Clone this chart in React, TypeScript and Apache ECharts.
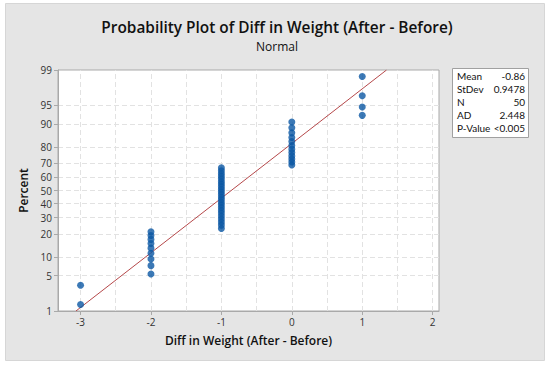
import React, { useEffect, useRef } from "react";
import * as echarts from "echarts";

const observations: number[] = [
  -3, -3,
  -2, -2, -2, -2, -2, -2, -2, -2, -2,
  -1, -1, -1, -1, -1, -1, -1, -1, -1, -1, -1, -1, -1, -1, -1, -1, -1, -1, -1, -1, -1, -1, -1,
  0, 0, 0, 0, 0, 0, 0, 0, 0, 0, 0, 0,
  1, 1, 1, 1,
];

const percentTicks: number[] = [1, 5, 10, 20, 30, 40, 50, 60, 70, 80, 90, 95, 99];
const xTicks: number[] = [-3, -2, -1, 0, 1, 2];
const xGridValues: number[] = [-3, -2.5, -2, -1.5, -1, -0.5, 0, 0.5, 1, 1.5, 2];
const statLabels: string[] = ["Mean", "StDev", "N", "AD", "P-Value"];
const statValues: string[] = ["-0.86", "0.9478", "50", "2.448", "<0.005"];

const FONT = "'Open Sans', 'Noto Sans', sans-serif";
const STAT_FONT = "Lato, 'Open Sans', sans-serif";

function normInv(p: number): number {
  const a = [-3.969683028665376e1, 2.209460984245205e2, -2.759285104469687e2, 1.38357751867269e2, -3.066479806614716e1, 2.506628277459239];
  const b = [-5.447609879822406e1, 1.615858368580409e2, -1.556989798598866e2, 6.680131188771972e1, -1.328068155288572e1];
  const c = [-7.784894002430293e-3, -3.223964580411365e-1, -2.400758277161838, -2.549671348283398, 4.374664141464968, 2.938163982698783];
  const d = [7.784695709041462e-3, 3.224671290700398e-1, 2.445134137142996, 3.754408661907416];
  const pl = 0.02425;
  if (p < pl) {
    const q = Math.sqrt(-2 * Math.log(p));
    return (((((c[0] * q + c[1]) * q + c[2]) * q + c[3]) * q + c[4]) * q + c[5]) / ((((d[0] * q + d[1]) * q + d[2]) * q + d[3]) * q + 1);
  }
  if (p <= 1 - pl) {
    const q = p - 0.5;
    const r = q * q;
    return ((((((a[0] * r + a[1]) * r + a[2]) * r + a[3]) * r + a[4]) * r + a[5]) * q) / (((((b[0] * r + b[1]) * r + b[2]) * r + b[3]) * r + b[4]) * r + 1);
  }
  const q = Math.sqrt(-2 * Math.log(1 - p));
  return -(((((c[0] * q + c[1]) * q + c[2]) * q + c[3]) * q + c[4]) * q + c[5]) / ((((d[0] * q + d[1]) * q + d[2]) * q + d[3]) * q + 1);
}

export default function App() {
  const ref = useRef<HTMLDivElement>(null);
  useEffect(() => {
    document.body.style.margin = "0";
    if (!ref.current) return;
    const chart = echarts.init(ref.current, undefined, { renderer: "svg" });

    const sorted = [...observations].sort((x, y) => x - y);
    const n = sorted.length;
    const mean = sorted.reduce((s, v) => s + v, 0) / n;
    const sd = Math.sqrt(sorted.reduce((s, v) => s + (v - mean) ** 2, 0) / (n - 1));
    // Median-rank plotting positions (Benard)
    const points = sorted.map((v, i) => [v, normInv((i + 1 - 0.3) / (n + 0.4))]);
    const zMin = normInv(0.01);
    const zMax = normInv(0.99);
    const fitLine = [
      [mean + sd * zMin, zMin],
      [mean + sd * zMax, zMax],
    ];
    const yTickZ = percentTicks.map((p) => normInv(p / 100));

    const labelFor = (v: number) => {
      let best = 0;
      for (let i = 1; i < yTickZ.length; i++) if (Math.abs(yTickZ[i] - v) < Math.abs(yTickZ[best] - v)) best = i;
      return String(percentTicks[best]);
    };

    const gridStyle = { type: [5, 3] as any, color: "#e2e2e2", width: 1 };

    chart.setOption({
      animation: false,
      backgroundColor: "#ffffff",
      grid: {
        left: 58,
        right: 111,
        top: 70,
        bottom: 55,
        show: true,
        backgroundColor: "#ffffff",
        borderColor: "#a9a9a9",
        borderWidth: 1,
      },
      xAxis: {
        type: "value",
        min: -3.32,
        max: 2.09,
        name: "Diff in Weight (After - Before)",
        nameLocation: "middle",
        nameGap: 23,
        nameTextStyle: { fontFamily: FONT, fontSize: 12, fontWeight: 600, color: "#111" },
        axisLine: { show: true, onZero: false, lineStyle: { color: "#a9a9a9" } },
        axisTick: { show: true, customValues: xTicks, length: 4, lineStyle: { color: "#a9a9a9" } },
        axisLabel: { customValues: xTicks, fontFamily: FONT, fontSize: 10, color: "#333", margin: 6 },
        splitLine: { show: false },
      },
      yAxis: {
        type: "value",
        min: zMin,
        max: zMax,
        name: "Percent",
        nameLocation: "middle",
        nameGap: 28,
        nameRotate: 90,
        nameTextStyle: { fontFamily: FONT, fontSize: 12, fontWeight: 600, color: "#111" },
        axisLine: { show: true, onZero: false, lineStyle: { color: "#a9a9a9" } },
        axisTick: { show: true, customValues: yTickZ, length: 4, lineStyle: { color: "#a9a9a9" } },
        axisLabel: { customValues: yTickZ, formatter: labelFor, fontFamily: FONT, fontSize: 10, color: "#333", margin: 6 },
        splitLine: { show: false },
      },
      series: [
        {
          type: "line",
          data: [],
          z: 1,
          silent: true,
          markLine: {
            silent: true,
            z: 0,
            symbol: "none",
            label: { show: false },
            lineStyle: gridStyle,
            emphasis: { disabled: true },
            data: [
              ...xGridValues.map((v) => ({ xAxis: v })),
              ...yTickZ.slice(1, -1).map((v) => ({ yAxis: v })),
            ],
          },
        },
        {
          type: "line",
          data: fitLine,
          z: 2,
          symbol: "none",
          silent: true,
          lineStyle: { color: "#b5484a", width: 1 },
        },
        {
          type: "scatter",
          data: points,
          z: 3,
          symbol: "circle",
          symbolSize: 7,
          itemStyle: { color: "#0b57a4" },
        },
      ],
      graphic: [
        {
          type: "rect",
          z: -100,
          shape: { x: 5.5, y: 3.5, width: 539, height: 357 },
          style: { fill: "#e5e5e5", stroke: "#d6d6d6", lineWidth: 1 },
        },
        {
          type: "text",
          x: 277,
          y: 27,
          style: {
            text: "Probability Plot of Diff in Weight (After - Before)",
            font: `600 15.4px ${FONT}`,
            fill: "#111",
            textAlign: "center",
            textVerticalAlign: "middle",
          },
        },
        {
          type: "text",
          x: 277,
          y: 46,
          style: {
            text: "Normal",
            font: `12px ${FONT}`,
            fill: "#111",
            textAlign: "center",
            textVerticalAlign: "middle",
          },
        },
        {
          type: "rect",
          shape: { x: 452.5, y: 68.5, width: 76, height: 69 },
          style: { fill: "#ffffff", stroke: "#a0a0a0", lineWidth: 1 },
        },
        ...statLabels.map((t, i) => ({
          type: "text",
          x: 457,
          y: 76 + i * 13,
          style: { text: t, font: `10px ${STAT_FONT}`, fill: "#111", textAlign: "left", textVerticalAlign: "middle" },
        })),
        ...statValues.map((t, i) => ({
          type: "text",
          x: 525,
          y: 76 + i * 13,
          style: { text: t, font: `10px ${STAT_FONT}`, fill: "#111", textAlign: "right", textVerticalAlign: "middle" },
        })),
      ],
    });
    return () => chart.dispose();
  }, []);
  return <div ref={ref} style={{ width: 550, height: 366 }} />;
}
